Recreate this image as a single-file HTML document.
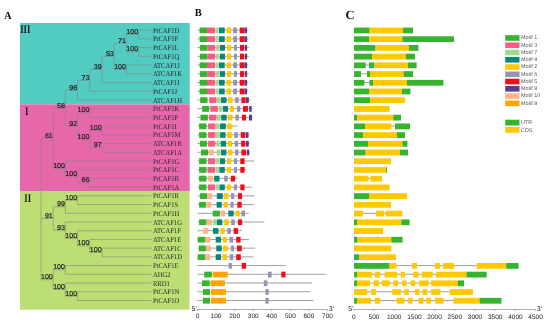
<!DOCTYPE html>
<html><head><meta charset="utf-8">
<style>
html,body{margin:0;padding:0;background:#fff;}
body{width:550px;height:328px;overflow:hidden;}
svg{display:block;will-change:transform;text-rendering:geometricPrecision;}
.pl{font-family:"Liberation Serif",serif;font-weight:bold;font-size:11.5px;fill:#111;}
.cl{font-family:"Liberation Serif",serif;font-weight:bold;font-size:11.5px;fill:#1a1a1a;}
.tl{stroke:#858585;stroke-opacity:0.6;stroke-width:1;}
.bs{font-family:"Liberation Sans",sans-serif;font-size:7.1px;fill:#222;stroke:#222;stroke-width:0.2;text-anchor:end;}
.lf{font-family:"Liberation Serif",serif;font-size:7.2px;fill:#262626;text-rendering:geometricPrecision;}
.gl{stroke:#a0a0a0;stroke-width:1;}
.ax{stroke:#999;stroke-width:0.8;}
.at{font-family:"Liberation Sans",sans-serif;font-size:6.5px;fill:#222;text-anchor:middle;}
.at5{font-family:"Liberation Sans",sans-serif;font-size:7px;fill:#222;}
.lg{font-family:"Liberation Sans",sans-serif;font-size:5.4px;fill:#555;}
</style></head><body>
<svg width="550" height="328" viewBox="0 0 550 328">
<rect x="20" y="23" width="169.7" height="81.4" fill="#52CBC0"/>
<rect x="20" y="104.4" width="169.7" height="87.1" fill="#E767AB"/>
<rect x="20" y="191.5" width="169.5" height="118.2" fill="#BDDE72"/>
<text x="4.1" y="19" class="pl" style="font-size:10.6px">A</text>
<text x="194.8" y="16.2" class="pl" style="font-size:10.6px">B</text>
<text x="345.6" y="19.3" class="pl" style="font-size:12.5px">C</text>
<text transform="translate(20.2,32.9) scale(0.76,1)" class="cl">III</text>
<text transform="translate(25.1,114.8) scale(0.76,1)" class="cl">I</text>
<text transform="translate(24.3,202.3) scale(0.76,1)" class="cl">II</text>
<line class="tl" x1="138.60" y1="30.15" x2="151.50" y2="30.15"/>
<line class="tl" x1="138.60" y1="38.87" x2="151.50" y2="38.87"/>
<line class="tl" x1="138.60" y1="30.15" x2="138.60" y2="38.87"/>
<line class="tl" x1="126.40" y1="34.51" x2="138.60" y2="34.51"/>
<line class="tl" x1="138.60" y1="47.59" x2="151.50" y2="47.59"/>
<line class="tl" x1="138.60" y1="56.31" x2="151.50" y2="56.31"/>
<line class="tl" x1="138.60" y1="47.59" x2="138.60" y2="56.31"/>
<line class="tl" x1="126.40" y1="51.95" x2="138.60" y2="51.95"/>
<line class="tl" x1="126.40" y1="34.51" x2="126.40" y2="51.95"/>
<line class="tl" x1="114.20" y1="43.23" x2="126.40" y2="43.23"/>
<line class="tl" x1="126.40" y1="65.03" x2="151.50" y2="65.03"/>
<line class="tl" x1="126.40" y1="73.75" x2="151.50" y2="73.75"/>
<line class="tl" x1="126.40" y1="65.03" x2="126.40" y2="73.75"/>
<line class="tl" x1="114.20" y1="69.39" x2="126.40" y2="69.39"/>
<line class="tl" x1="114.20" y1="43.23" x2="114.20" y2="69.39"/>
<line class="tl" x1="102.00" y1="56.31" x2="114.20" y2="56.31"/>
<line class="tl" x1="102.00" y1="82.47" x2="151.50" y2="82.47"/>
<line class="tl" x1="102.00" y1="56.31" x2="102.00" y2="82.47"/>
<line class="tl" x1="89.80" y1="69.39" x2="102.00" y2="69.39"/>
<line class="tl" x1="89.80" y1="91.19" x2="151.50" y2="91.19"/>
<line class="tl" x1="89.80" y1="69.39" x2="89.80" y2="91.19"/>
<line class="tl" x1="77.60" y1="80.29" x2="89.80" y2="80.29"/>
<line class="tl" x1="77.60" y1="99.91" x2="151.50" y2="99.91"/>
<line class="tl" x1="77.60" y1="80.29" x2="77.60" y2="99.91"/>
<line class="tl" x1="65.40" y1="90.10" x2="77.60" y2="90.10"/>
<line class="tl" x1="89.80" y1="108.63" x2="151.50" y2="108.63"/>
<line class="tl" x1="89.80" y1="117.35" x2="151.50" y2="117.35"/>
<line class="tl" x1="89.80" y1="108.63" x2="89.80" y2="117.35"/>
<line class="tl" x1="77.60" y1="112.99" x2="89.80" y2="112.99"/>
<line class="tl" x1="102.00" y1="126.07" x2="151.50" y2="126.07"/>
<line class="tl" x1="102.00" y1="134.79" x2="151.50" y2="134.79"/>
<line class="tl" x1="102.00" y1="126.07" x2="102.00" y2="134.79"/>
<line class="tl" x1="89.80" y1="130.43" x2="102.00" y2="130.43"/>
<line class="tl" x1="102.00" y1="143.51" x2="151.50" y2="143.51"/>
<line class="tl" x1="102.00" y1="152.23" x2="151.50" y2="152.23"/>
<line class="tl" x1="102.00" y1="143.51" x2="102.00" y2="152.23"/>
<line class="tl" x1="89.80" y1="147.87" x2="102.00" y2="147.87"/>
<line class="tl" x1="89.80" y1="130.43" x2="89.80" y2="147.87"/>
<line class="tl" x1="77.60" y1="139.15" x2="89.80" y2="139.15"/>
<line class="tl" x1="77.60" y1="112.99" x2="77.60" y2="139.15"/>
<line class="tl" x1="65.40" y1="126.07" x2="77.60" y2="126.07"/>
<line class="tl" x1="65.40" y1="90.10" x2="65.40" y2="126.07"/>
<line class="tl" x1="53.20" y1="108.08" x2="65.40" y2="108.08"/>
<line class="tl" x1="65.40" y1="160.95" x2="151.50" y2="160.95"/>
<line class="tl" x1="77.60" y1="169.67" x2="151.50" y2="169.67"/>
<line class="tl" x1="89.80" y1="178.39" x2="151.50" y2="178.39"/>
<line class="tl" x1="89.80" y1="187.11" x2="151.50" y2="187.11"/>
<line class="tl" x1="89.80" y1="178.39" x2="89.80" y2="187.11"/>
<line class="tl" x1="77.60" y1="182.75" x2="89.80" y2="182.75"/>
<line class="tl" x1="77.60" y1="169.67" x2="77.60" y2="182.75"/>
<line class="tl" x1="65.40" y1="176.21" x2="77.60" y2="176.21"/>
<line class="tl" x1="65.40" y1="160.95" x2="65.40" y2="176.21"/>
<line class="tl" x1="53.20" y1="168.58" x2="65.40" y2="168.58"/>
<line class="tl" x1="53.20" y1="108.08" x2="53.20" y2="168.58"/>
<line class="tl" x1="41.00" y1="138.33" x2="53.20" y2="138.33"/>
<line class="tl" x1="77.60" y1="195.83" x2="151.50" y2="195.83"/>
<line class="tl" x1="77.60" y1="204.55" x2="151.50" y2="204.55"/>
<line class="tl" x1="77.60" y1="195.83" x2="77.60" y2="204.55"/>
<line class="tl" x1="65.40" y1="200.19" x2="77.60" y2="200.19"/>
<line class="tl" x1="65.40" y1="213.27" x2="151.50" y2="213.27"/>
<line class="tl" x1="65.40" y1="200.19" x2="65.40" y2="213.27"/>
<line class="tl" x1="53.20" y1="206.73" x2="65.40" y2="206.73"/>
<line class="tl" x1="65.40" y1="221.99" x2="151.50" y2="221.99"/>
<line class="tl" x1="77.60" y1="230.71" x2="151.50" y2="230.71"/>
<line class="tl" x1="89.80" y1="239.43" x2="151.50" y2="239.43"/>
<line class="tl" x1="102.00" y1="248.15" x2="151.50" y2="248.15"/>
<line class="tl" x1="102.00" y1="256.87" x2="151.50" y2="256.87"/>
<line class="tl" x1="102.00" y1="248.15" x2="102.00" y2="256.87"/>
<line class="tl" x1="89.80" y1="252.51" x2="102.00" y2="252.51"/>
<line class="tl" x1="89.80" y1="239.43" x2="89.80" y2="252.51"/>
<line class="tl" x1="77.60" y1="245.97" x2="89.80" y2="245.97"/>
<line class="tl" x1="77.60" y1="230.71" x2="77.60" y2="245.97"/>
<line class="tl" x1="65.40" y1="238.34" x2="77.60" y2="238.34"/>
<line class="tl" x1="65.40" y1="221.99" x2="65.40" y2="238.34"/>
<line class="tl" x1="53.20" y1="230.17" x2="65.40" y2="230.17"/>
<line class="tl" x1="53.20" y1="206.73" x2="53.20" y2="230.17"/>
<line class="tl" x1="41.00" y1="218.45" x2="53.20" y2="218.45"/>
<line class="tl" x1="65.40" y1="265.59" x2="151.50" y2="265.59"/>
<line class="tl" x1="65.40" y1="274.31" x2="151.50" y2="274.31"/>
<line class="tl" x1="65.40" y1="265.59" x2="65.40" y2="274.31"/>
<line class="tl" x1="53.20" y1="269.95" x2="65.40" y2="269.95"/>
<line class="tl" x1="65.40" y1="283.03" x2="151.50" y2="283.03"/>
<line class="tl" x1="77.60" y1="291.75" x2="151.50" y2="291.75"/>
<line class="tl" x1="77.60" y1="300.47" x2="151.50" y2="300.47"/>
<line class="tl" x1="77.60" y1="291.75" x2="77.60" y2="300.47"/>
<line class="tl" x1="65.40" y1="296.11" x2="77.60" y2="296.11"/>
<line class="tl" x1="65.40" y1="283.03" x2="65.40" y2="296.11"/>
<line class="tl" x1="53.20" y1="289.57" x2="65.40" y2="289.57"/>
<line class="tl" x1="53.20" y1="269.95" x2="53.20" y2="289.57"/>
<line class="tl" x1="41.00" y1="279.76" x2="53.20" y2="279.76"/>
<line class="tl" x1="41.00" y1="138.33" x2="41.00" y2="279.76"/>
<text x="138.20" y="34.01" class="bs">100</text>
<text x="138.20" y="51.45" class="bs">100</text>
<text x="126.00" y="42.73" class="bs">71</text>
<text x="126.00" y="68.89" class="bs">100</text>
<text x="113.80" y="55.81" class="bs">53</text>
<text x="101.60" y="68.89" class="bs">39</text>
<text x="89.40" y="79.79" class="bs">73</text>
<text x="77.20" y="89.60" class="bs">96</text>
<text x="89.40" y="112.49" class="bs">100</text>
<text x="101.60" y="129.93" class="bs">100</text>
<text x="101.60" y="147.37" class="bs">97</text>
<text x="89.40" y="138.65" class="bs">100</text>
<text x="77.20" y="125.57" class="bs">92</text>
<text x="65.00" y="107.58" class="bs">58</text>
<text x="89.40" y="182.25" class="bs">66</text>
<text x="77.20" y="175.71" class="bs">100</text>
<text x="65.00" y="168.08" class="bs">100</text>
<text x="52.80" y="137.83" class="bs">61</text>
<text x="77.20" y="199.69" class="bs">100</text>
<text x="65.00" y="206.23" class="bs">99</text>
<text x="101.60" y="252.01" class="bs">100</text>
<text x="89.40" y="245.47" class="bs">100</text>
<text x="77.20" y="237.84" class="bs">100</text>
<text x="65.00" y="229.67" class="bs">93</text>
<text x="52.80" y="217.95" class="bs">91</text>
<text x="65.00" y="269.45" class="bs">100</text>
<text x="77.20" y="295.61" class="bs">100</text>
<text x="65.00" y="289.07" class="bs">100</text>
<text x="52.80" y="279.26" class="bs">100</text>
<g transform="translate(152.9,0) scale(0.92,1)">
<text x="0" y="32.75" class="lf">PtCAF1D</text>
<text x="0" y="41.47" class="lf">PtCAF1F</text>
<text x="0" y="50.19" class="lf">PtCAF1L</text>
<text x="0" y="58.91" class="lf">PtCAF1Q</text>
<text x="0" y="67.63" class="lf">ATCAF1J</text>
<text x="0" y="76.35" class="lf">ATCAF1K</text>
<text x="0" y="85.07" class="lf">ATCAF1I</text>
<text x="0" y="93.79" class="lf">PtCAF1J</text>
<text x="0" y="102.51" class="lf">ATCAF1H</text>
<text x="0" y="111.23" class="lf">PtCAF1K</text>
<text x="0" y="119.95" class="lf">PtCAF1P</text>
<text x="0" y="128.67" class="lf">PtCAF1I</text>
<text x="0" y="137.39" class="lf">PtCAF1M</text>
<text x="0" y="146.11" class="lf">ATCAF1B</text>
<text x="0" y="154.83" class="lf">ATCAF1A</text>
<text x="0" y="163.55" class="lf">PtCAF1G</text>
<text x="0" y="172.27" class="lf">PtCAF1C</text>
<text x="0" y="180.99" class="lf">PtCAF1B</text>
<text x="0" y="189.71" class="lf">PtCAF1A</text>
<text x="0" y="198.43" class="lf">PtCAF1R</text>
<text x="0" y="207.15" class="lf">PtCAF1S</text>
<text x="0" y="215.87" class="lf">PtCAF1H</text>
<text x="0" y="224.59" class="lf">ATCAF1G</text>
<text x="0" y="233.31" class="lf">ATCAF1F</text>
<text x="0" y="242.03" class="lf">ATCAF1E</text>
<text x="0" y="250.75" class="lf">ATCAF1C</text>
<text x="0" y="259.47" class="lf">ATCAF1D</text>
<text x="0" y="268.19" class="lf">PtCAF1E</text>
<text x="0" y="276.91" class="lf">AHG2</text>
<text x="0" y="285.63" class="lf">RRD1</text>
<text x="0" y="294.35" class="lf">PtCAF1N</text>
<text x="0" y="303.07" class="lf">PtCAF1O</text>
</g>
<line class="gl" x1="197.5" y1="30.15" x2="248.5" y2="30.15"/>
<rect x="199.6" y="27.50" width="7.40" height="5.8" fill="#36B32F"/>
<rect x="207" y="27.50" width="8.00" height="5.8" fill="#FC5A84"/>
<rect x="215.5" y="27.50" width="3.00" height="5.8" fill="#9EDB8C"/>
<rect x="219" y="27.50" width="5.70" height="5.8" fill="#088878"/>
<rect x="226.4" y="27.50" width="4.60" height="5.8" fill="#FFC900"/>
<rect x="233.2" y="27.50" width="3.80" height="5.8" fill="#9A92B6"/>
<rect x="239.7" y="27.50" width="4.40" height="5.8" fill="#F80A18"/>
<rect x="244.3" y="27.50" width="2.80" height="5.8" fill="#5C3C8E"/>
<line class="gl" x1="197.5" y1="38.87" x2="248.5" y2="38.87"/>
<rect x="199.6" y="36.22" width="7.40" height="5.8" fill="#36B32F"/>
<rect x="207" y="36.22" width="8.00" height="5.8" fill="#FC5A84"/>
<rect x="215.5" y="36.22" width="3.00" height="5.8" fill="#9EDB8C"/>
<rect x="219" y="36.22" width="5.70" height="5.8" fill="#088878"/>
<rect x="226.4" y="36.22" width="4.60" height="5.8" fill="#FFC900"/>
<rect x="233.2" y="36.22" width="3.80" height="5.8" fill="#9A92B6"/>
<rect x="239.7" y="36.22" width="4.40" height="5.8" fill="#F80A18"/>
<rect x="244.3" y="36.22" width="2.80" height="5.8" fill="#5C3C8E"/>
<line class="gl" x1="197.5" y1="47.59" x2="249" y2="47.59"/>
<rect x="199.9" y="44.94" width="7.60" height="5.8" fill="#36B32F"/>
<rect x="207.5" y="44.94" width="7.70" height="5.8" fill="#FC5A84"/>
<rect x="216" y="44.94" width="3.20" height="5.8" fill="#9EDB8C"/>
<rect x="219.9" y="44.94" width="5.10" height="5.8" fill="#088878"/>
<rect x="226.9" y="44.94" width="4.30" height="5.8" fill="#FFC900"/>
<rect x="234" y="44.94" width="3.00" height="5.8" fill="#9A92B6"/>
<rect x="240" y="44.94" width="4.30" height="5.8" fill="#F80A18"/>
<rect x="245" y="44.94" width="2.10" height="5.8" fill="#5C3C8E"/>
<line class="gl" x1="197.5" y1="56.31" x2="249" y2="56.31"/>
<rect x="199.9" y="53.66" width="7.60" height="5.8" fill="#36B32F"/>
<rect x="207.5" y="53.66" width="7.70" height="5.8" fill="#FC5A84"/>
<rect x="216" y="53.66" width="3.20" height="5.8" fill="#9EDB8C"/>
<rect x="219.9" y="53.66" width="5.10" height="5.8" fill="#088878"/>
<rect x="226.9" y="53.66" width="4.30" height="5.8" fill="#FFC900"/>
<rect x="234" y="53.66" width="3.00" height="5.8" fill="#9A92B6"/>
<rect x="240" y="53.66" width="4.30" height="5.8" fill="#F80A18"/>
<rect x="245" y="53.66" width="2.10" height="5.8" fill="#5C3C8E"/>
<line class="gl" x1="197.5" y1="65.03" x2="248.5" y2="65.03"/>
<rect x="199.6" y="62.38" width="7.40" height="5.8" fill="#36B32F"/>
<rect x="207" y="62.38" width="8.00" height="5.8" fill="#FC5A84"/>
<rect x="215.5" y="62.38" width="3.00" height="5.8" fill="#9EDB8C"/>
<rect x="219" y="62.38" width="5.70" height="5.8" fill="#088878"/>
<rect x="226.4" y="62.38" width="4.60" height="5.8" fill="#FFC900"/>
<rect x="233.2" y="62.38" width="3.80" height="5.8" fill="#9A92B6"/>
<rect x="239.7" y="62.38" width="4.40" height="5.8" fill="#F80A18"/>
<rect x="244.3" y="62.38" width="2.80" height="5.8" fill="#5C3C8E"/>
<line class="gl" x1="197.5" y1="73.75" x2="249" y2="73.75"/>
<rect x="199.9" y="71.10" width="7.60" height="5.8" fill="#36B32F"/>
<rect x="207.5" y="71.10" width="7.70" height="5.8" fill="#FC5A84"/>
<rect x="216" y="71.10" width="3.20" height="5.8" fill="#9EDB8C"/>
<rect x="219.9" y="71.10" width="5.10" height="5.8" fill="#088878"/>
<rect x="226.9" y="71.10" width="4.30" height="5.8" fill="#FFC900"/>
<rect x="234" y="71.10" width="3.00" height="5.8" fill="#9A92B6"/>
<rect x="240" y="71.10" width="4.30" height="5.8" fill="#F80A18"/>
<rect x="245" y="71.10" width="2.10" height="5.8" fill="#5C3C8E"/>
<line class="gl" x1="197.5" y1="82.47" x2="248.5" y2="82.47"/>
<rect x="199.6" y="79.82" width="7.40" height="5.8" fill="#36B32F"/>
<rect x="207" y="79.82" width="8.00" height="5.8" fill="#FC5A84"/>
<rect x="215.5" y="79.82" width="3.00" height="5.8" fill="#9EDB8C"/>
<rect x="219" y="79.82" width="5.70" height="5.8" fill="#088878"/>
<rect x="226.4" y="79.82" width="4.60" height="5.8" fill="#FFC900"/>
<rect x="233.2" y="79.82" width="3.80" height="5.8" fill="#9A92B6"/>
<rect x="239.7" y="79.82" width="4.40" height="5.8" fill="#F80A18"/>
<rect x="244.3" y="79.82" width="2.80" height="5.8" fill="#5C3C8E"/>
<line class="gl" x1="197.5" y1="91.19" x2="248.5" y2="91.19"/>
<rect x="199.6" y="88.54" width="7.40" height="5.8" fill="#36B32F"/>
<rect x="207" y="88.54" width="8.00" height="5.8" fill="#FC5A84"/>
<rect x="215.5" y="88.54" width="3.00" height="5.8" fill="#9EDB8C"/>
<rect x="219" y="88.54" width="5.70" height="5.8" fill="#088878"/>
<rect x="226.4" y="88.54" width="4.60" height="5.8" fill="#FFC900"/>
<rect x="233.2" y="88.54" width="3.80" height="5.8" fill="#9A92B6"/>
<rect x="239.7" y="88.54" width="4.40" height="5.8" fill="#F80A18"/>
<rect x="244.3" y="88.54" width="2.80" height="5.8" fill="#5C3C8E"/>
<line class="gl" x1="197.5" y1="99.91" x2="250.6" y2="99.91"/>
<rect x="200.2" y="97.26" width="7.30" height="5.8" fill="#36B32F"/>
<rect x="209.2" y="97.26" width="7.30" height="5.8" fill="#FC5A84"/>
<rect x="217.1" y="97.26" width="3.20" height="5.8" fill="#9EDB8C"/>
<rect x="221" y="97.26" width="5.60" height="5.8" fill="#088878"/>
<rect x="228" y="97.26" width="4.60" height="5.8" fill="#FFC900"/>
<rect x="235.1" y="97.26" width="3.50" height="5.8" fill="#9A92B6"/>
<rect x="241.4" y="97.26" width="4.30" height="5.8" fill="#F80A18"/>
<rect x="246" y="97.26" width="2.80" height="5.8" fill="#5C3C8E"/>
<line class="gl" x1="197.5" y1="108.63" x2="252.3" y2="108.63"/>
<rect x="202.1" y="105.98" width="7.10" height="5.8" fill="#36B32F"/>
<rect x="210.3" y="105.98" width="7.60" height="5.8" fill="#FC5A84"/>
<rect x="218.7" y="105.98" width="3.30" height="5.8" fill="#9EDB8C"/>
<rect x="222.8" y="105.98" width="5.20" height="5.8" fill="#088878"/>
<rect x="229.7" y="105.98" width="4.30" height="5.8" fill="#FFC900"/>
<rect x="237" y="105.98" width="3.30" height="5.8" fill="#9A92B6"/>
<rect x="243" y="105.98" width="4.90" height="5.8" fill="#F80A18"/>
<rect x="249.2" y="105.98" width="2.50" height="5.8" fill="#5C3C8E"/>
<line class="gl" x1="197.5" y1="117.35" x2="252.5" y2="117.35"/>
<rect x="200.5" y="114.70" width="7.40" height="5.8" fill="#36B32F"/>
<rect x="208.9" y="114.70" width="7.60" height="5.8" fill="#FC5A84"/>
<rect x="217.1" y="114.70" width="3.50" height="5.8" fill="#9EDB8C"/>
<rect x="221.2" y="114.70" width="5.40" height="5.8" fill="#088878"/>
<rect x="228" y="114.70" width="4.60" height="5.8" fill="#FFC900"/>
<rect x="235.4" y="114.70" width="3.50" height="5.8" fill="#9A92B6"/>
<rect x="241.9" y="114.70" width="4.10" height="5.8" fill="#F80A18"/>
<rect x="249" y="114.70" width="3.00" height="5.8" fill="#5C3C8E"/>
<line class="gl" x1="197.5" y1="126.07" x2="237.5" y2="126.07"/>
<rect x="199.1" y="123.42" width="7.40" height="5.8" fill="#36B32F"/>
<rect x="208.1" y="123.42" width="7.40" height="5.8" fill="#FC5A84"/>
<rect x="216" y="123.42" width="3.50" height="5.8" fill="#9EDB8C"/>
<rect x="220.1" y="123.42" width="5.70" height="5.8" fill="#088878"/>
<rect x="227.2" y="123.42" width="4.70" height="5.8" fill="#FFC900"/>
<line class="gl" x1="197.5" y1="134.79" x2="249.5" y2="134.79"/>
<rect x="199.1" y="132.14" width="7.40" height="5.8" fill="#36B32F"/>
<rect x="208.1" y="132.14" width="7.40" height="5.8" fill="#FC5A84"/>
<rect x="216" y="132.14" width="3.50" height="5.8" fill="#9EDB8C"/>
<rect x="220.1" y="132.14" width="5.40" height="5.8" fill="#088878"/>
<rect x="227.2" y="132.14" width="4.70" height="5.8" fill="#FFC900"/>
<rect x="234.3" y="132.14" width="3.60" height="5.8" fill="#9A92B6"/>
<rect x="240.8" y="132.14" width="4.40" height="5.8" fill="#F80A18"/>
<rect x="245.7" y="132.14" width="2.80" height="5.8" fill="#5C3C8E"/>
<line class="gl" x1="197.5" y1="143.51" x2="249.5" y2="143.51"/>
<rect x="199.9" y="140.86" width="7.10" height="5.8" fill="#36B32F"/>
<rect x="208.1" y="140.86" width="7.30" height="5.8" fill="#FC5A84"/>
<rect x="216.3" y="140.86" width="3.20" height="5.8" fill="#9EDB8C"/>
<rect x="220.6" y="140.86" width="5.50" height="5.8" fill="#088878"/>
<rect x="227.5" y="140.86" width="4.60" height="5.8" fill="#FFC900"/>
<rect x="234.6" y="140.86" width="3.50" height="5.8" fill="#9A92B6"/>
<rect x="241" y="140.86" width="4.40" height="5.8" fill="#F80A18"/>
<rect x="246" y="140.86" width="2.80" height="5.8" fill="#5C3C8E"/>
<line class="gl" x1="197.5" y1="152.23" x2="250" y2="152.23"/>
<rect x="201" y="149.58" width="7.10" height="5.8" fill="#36B32F"/>
<rect x="208.6" y="149.58" width="5.20" height="5.8" fill="#FDB48A"/>
<rect x="216.8" y="149.58" width="3.50" height="5.8" fill="#9EDB8C"/>
<rect x="221" y="149.58" width="5.40" height="5.8" fill="#088878"/>
<rect x="228" y="149.58" width="4.30" height="5.8" fill="#FFC900"/>
<rect x="235.1" y="149.58" width="3.30" height="5.8" fill="#9A92B6"/>
<rect x="241.4" y="149.58" width="4.60" height="5.8" fill="#F80A18"/>
<rect x="246.8" y="149.58" width="2.50" height="5.8" fill="#5C3C8E"/>
<line class="gl" x1="197.5" y1="160.95" x2="254.3" y2="160.95"/>
<rect x="199.1" y="158.30" width="7.40" height="5.8" fill="#36B32F"/>
<rect x="207.9" y="158.30" width="7.30" height="5.8" fill="#FC5A84"/>
<rect x="215.7" y="158.30" width="3.50" height="5.8" fill="#9EDB8C"/>
<rect x="219.9" y="158.30" width="5.10" height="5.8" fill="#088878"/>
<rect x="227" y="158.30" width="4.30" height="5.8" fill="#FFC900"/>
<rect x="234" y="158.30" width="3.00" height="5.8" fill="#9A92B6"/>
<rect x="240.3" y="158.30" width="4.30" height="5.8" fill="#F80A18"/>
<line class="gl" x1="197.5" y1="169.67" x2="246" y2="169.67"/>
<rect x="199.1" y="167.02" width="7.40" height="5.8" fill="#36B32F"/>
<rect x="207.5" y="167.02" width="7.50" height="5.8" fill="#FC5A84"/>
<rect x="215.5" y="167.02" width="3.30" height="5.8" fill="#9EDB8C"/>
<rect x="219.3" y="167.02" width="5.50" height="5.8" fill="#088878"/>
<rect x="226.6" y="167.02" width="4.40" height="5.8" fill="#FFC900"/>
<rect x="234" y="167.02" width="3.00" height="5.8" fill="#9A92B6"/>
<rect x="240.3" y="167.02" width="4.30" height="5.8" fill="#F80A18"/>
<line class="gl" x1="197.5" y1="178.39" x2="237.5" y2="178.39"/>
<rect x="199.1" y="175.74" width="7.40" height="5.8" fill="#36B32F"/>
<rect x="208.1" y="175.74" width="4.90" height="5.8" fill="#FDB48A"/>
<rect x="214.1" y="175.74" width="5.40" height="5.8" fill="#088878"/>
<rect x="224.2" y="175.74" width="3.50" height="5.8" fill="#9A92B6"/>
<rect x="230.8" y="175.74" width="4.30" height="5.8" fill="#F80A18"/>
<line class="gl" x1="197.5" y1="187.11" x2="251.7" y2="187.11"/>
<rect x="199.1" y="184.46" width="7.40" height="5.8" fill="#36B32F"/>
<rect x="207.9" y="184.46" width="7.10" height="5.8" fill="#FC5A84"/>
<rect x="215.5" y="184.46" width="3.30" height="5.8" fill="#9EDB8C"/>
<rect x="219.5" y="184.46" width="5.30" height="5.8" fill="#088878"/>
<rect x="226.6" y="184.46" width="4.40" height="5.8" fill="#FFC900"/>
<rect x="234" y="184.46" width="3.00" height="5.8" fill="#9A92B6"/>
<rect x="240.3" y="184.46" width="4.30" height="5.8" fill="#F80A18"/>
<line class="gl" x1="197.5" y1="195.83" x2="254.3" y2="195.83"/>
<rect x="199.9" y="193.18" width="7.10" height="5.8" fill="#36B32F"/>
<rect x="207" y="193.18" width="4.90" height="5.8" fill="#FDB48A"/>
<rect x="216.8" y="193.18" width="6.00" height="5.8" fill="#088878"/>
<rect x="223.9" y="193.18" width="4.40" height="5.8" fill="#FFC900"/>
<rect x="231" y="193.18" width="3.30" height="5.8" fill="#9A92B6"/>
<rect x="237.9" y="193.18" width="4.20" height="5.8" fill="#F80A18"/>
<line class="gl" x1="197.5" y1="204.55" x2="253.6" y2="204.55"/>
<rect x="199.1" y="201.90" width="6.80" height="5.8" fill="#36B32F"/>
<rect x="206.5" y="201.90" width="4.90" height="5.8" fill="#FDB48A"/>
<rect x="216.6" y="201.90" width="5.10" height="5.8" fill="#088878"/>
<rect x="223.6" y="201.90" width="4.30" height="5.8" fill="#FFC900"/>
<rect x="230.5" y="201.90" width="3.20" height="5.8" fill="#9A92B6"/>
<rect x="237.3" y="201.90" width="4.40" height="5.8" fill="#F80A18"/>
<line class="gl" x1="197.5" y1="213.27" x2="248.8" y2="213.27"/>
<rect x="212.7" y="210.62" width="7.20" height="5.8" fill="#36B32F"/>
<rect x="220.6" y="210.62" width="4.40" height="5.8" fill="#FDB48A"/>
<rect x="228.3" y="210.62" width="5.40" height="5.8" fill="#088878"/>
<rect x="235.4" y="210.62" width="4.30" height="5.8" fill="#FFC900"/>
<rect x="241.4" y="210.62" width="3.60" height="5.8" fill="#9A92B6"/>
<line class="gl" x1="197.5" y1="221.99" x2="264.4" y2="221.99"/>
<rect x="199.1" y="219.34" width="7.40" height="5.8" fill="#36B32F"/>
<rect x="207" y="219.34" width="4.90" height="5.8" fill="#FDB48A"/>
<rect x="213" y="219.34" width="3.30" height="5.8" fill="#9EDB8C"/>
<rect x="216.8" y="219.34" width="5.50" height="5.8" fill="#088878"/>
<rect x="224.2" y="219.34" width="4.60" height="5.8" fill="#FFC900"/>
<rect x="231.2" y="219.34" width="3.60" height="5.8" fill="#9A92B6"/>
<rect x="237.9" y="219.34" width="4.30" height="5.8" fill="#F80A18"/>
<line class="gl" x1="197.5" y1="230.71" x2="241.9" y2="230.71"/>
<rect x="203.2" y="228.06" width="4.90" height="5.8" fill="#FDB48A"/>
<rect x="213" y="228.06" width="5.50" height="5.8" fill="#088878"/>
<rect x="220.3" y="228.06" width="4.40" height="5.8" fill="#FFC900"/>
<rect x="227.2" y="228.06" width="3.60" height="5.8" fill="#9A92B6"/>
<rect x="233.7" y="228.06" width="4.40" height="5.8" fill="#F80A18"/>
<line class="gl" x1="197.5" y1="239.43" x2="249" y2="239.43"/>
<rect x="197.7" y="236.78" width="7.70" height="5.8" fill="#36B32F"/>
<rect x="205.4" y="236.78" width="4.90" height="5.8" fill="#FDB48A"/>
<rect x="215.7" y="236.78" width="5.30" height="5.8" fill="#088878"/>
<rect x="222.5" y="236.78" width="4.40" height="5.8" fill="#FFC900"/>
<rect x="229.4" y="236.78" width="3.60" height="5.8" fill="#9A92B6"/>
<rect x="236.2" y="236.78" width="4.40" height="5.8" fill="#F80A18"/>
<line class="gl" x1="197.5" y1="248.15" x2="255" y2="248.15"/>
<rect x="198.8" y="245.50" width="7.10" height="5.8" fill="#36B32F"/>
<rect x="205.9" y="245.50" width="5.20" height="5.8" fill="#FDB48A"/>
<rect x="216.3" y="245.50" width="5.40" height="5.8" fill="#088878"/>
<rect x="223.1" y="245.50" width="4.60" height="5.8" fill="#FFC900"/>
<rect x="231" y="245.50" width="3.10" height="5.8" fill="#9A92B6"/>
<rect x="237" y="245.50" width="4.70" height="5.8" fill="#F80A18"/>
<line class="gl" x1="197.5" y1="256.87" x2="253.3" y2="256.87"/>
<rect x="197.7" y="254.22" width="7.30" height="5.8" fill="#36B32F"/>
<rect x="205" y="254.22" width="5.30" height="5.8" fill="#FDB48A"/>
<rect x="215.7" y="254.22" width="5.30" height="5.8" fill="#088878"/>
<rect x="222.5" y="254.22" width="4.40" height="5.8" fill="#FFC900"/>
<rect x="229.7" y="254.22" width="3.50" height="5.8" fill="#9A92B6"/>
<rect x="236.2" y="254.22" width="4.60" height="5.8" fill="#F80A18"/>
<line class="gl" x1="197.5" y1="265.59" x2="285.5" y2="265.59"/>
<rect x="228.6" y="262.94" width="3.30" height="5.8" fill="#9A92B6"/>
<rect x="241.7" y="262.94" width="4.30" height="5.8" fill="#F80A18"/>
<line class="gl" x1="197.5" y1="274.31" x2="325.7" y2="274.31"/>
<rect x="204.2" y="271.66" width="7.70" height="5.8" fill="#36B32F"/>
<rect x="212.8" y="271.66" width="14.90" height="5.8" fill="#FFA402"/>
<rect x="267.9" y="271.66" width="3.70" height="5.8" fill="#9A92B6"/>
<rect x="281.3" y="271.66" width="4.20" height="5.8" fill="#F80A18"/>
<line class="gl" x1="197.5" y1="283.03" x2="312.3" y2="283.03"/>
<rect x="202" y="280.38" width="7.70" height="5.8" fill="#36B32F"/>
<rect x="210.6" y="280.38" width="14.30" height="5.8" fill="#FFA402"/>
<rect x="263.8" y="280.38" width="3.60" height="5.8" fill="#9A92B6"/>
<line class="gl" x1="197.5" y1="291.75" x2="309.9" y2="291.75"/>
<rect x="202.9" y="289.10" width="7.10" height="5.8" fill="#36B32F"/>
<rect x="211" y="289.10" width="15.00" height="5.8" fill="#FFA402"/>
<rect x="265.5" y="289.10" width="3.20" height="5.8" fill="#9A92B6"/>
<line class="gl" x1="197.5" y1="300.47" x2="313.6" y2="300.47"/>
<rect x="202.9" y="297.82" width="7.10" height="5.8" fill="#36B32F"/>
<rect x="211" y="297.82" width="15.00" height="5.8" fill="#FFA402"/>
<rect x="265.5" y="297.82" width="3.20" height="5.8" fill="#9A92B6"/>
<line class="gl" x1="354" y1="30.15" x2="413" y2="30.15"/>
<rect x="354" y="27.55" width="15.60" height="5.8" fill="#36B32F"/>
<rect x="369.6" y="27.55" width="33.40" height="5.8" fill="#FFC900"/>
<rect x="403" y="27.55" width="10.00" height="5.8" fill="#36B32F"/>
<line class="gl" x1="354" y1="38.87" x2="454" y2="38.87"/>
<rect x="354" y="36.27" width="15.00" height="5.8" fill="#36B32F"/>
<rect x="369" y="36.27" width="33.40" height="5.8" fill="#FFC900"/>
<rect x="402.4" y="36.27" width="51.60" height="5.8" fill="#36B32F"/>
<line class="gl" x1="354" y1="47.59" x2="418.4" y2="47.59"/>
<rect x="354" y="44.99" width="21.40" height="5.8" fill="#36B32F"/>
<rect x="375.4" y="44.99" width="33.60" height="5.8" fill="#FFC900"/>
<rect x="409" y="44.99" width="9.40" height="5.8" fill="#36B32F"/>
<line class="gl" x1="354" y1="56.31" x2="415" y2="56.31"/>
<rect x="354" y="53.71" width="18.00" height="5.8" fill="#36B32F"/>
<rect x="372" y="53.71" width="34.00" height="5.8" fill="#FFC900"/>
<rect x="406" y="53.71" width="9.00" height="5.8" fill="#36B32F"/>
<line class="gl" x1="354" y1="65.03" x2="416.6" y2="65.03"/>
<rect x="354" y="62.43" width="11.60" height="5.8" fill="#36B32F"/>
<rect x="369" y="62.43" width="5.40" height="5.8" fill="#36B32F"/>
<rect x="374.4" y="62.43" width="33.60" height="5.8" fill="#FFC900"/>
<rect x="408" y="62.43" width="8.60" height="5.8" fill="#36B32F"/>
<line class="gl" x1="354" y1="73.75" x2="413" y2="73.75"/>
<rect x="354" y="71.15" width="7.00" height="5.8" fill="#36B32F"/>
<rect x="367" y="71.15" width="3.00" height="5.8" fill="#36B32F"/>
<rect x="370" y="71.15" width="33.60" height="5.8" fill="#FFC900"/>
<rect x="403.6" y="71.15" width="9.40" height="5.8" fill="#36B32F"/>
<line class="gl" x1="354" y1="82.47" x2="443.4" y2="82.47"/>
<rect x="354" y="79.87" width="10.40" height="5.8" fill="#36B32F"/>
<rect x="369.4" y="79.87" width="3.60" height="5.8" fill="#36B32F"/>
<rect x="373" y="79.87" width="34.00" height="5.8" fill="#FFC900"/>
<rect x="407" y="79.87" width="36.40" height="5.8" fill="#36B32F"/>
<line class="gl" x1="354" y1="91.19" x2="410.4" y2="91.19"/>
<rect x="354" y="88.59" width="15.00" height="5.8" fill="#36B32F"/>
<rect x="369" y="88.59" width="33.00" height="5.8" fill="#FFC900"/>
<rect x="402" y="88.59" width="8.40" height="5.8" fill="#36B32F"/>
<line class="gl" x1="354" y1="99.91" x2="405" y2="99.91"/>
<rect x="354" y="97.31" width="16.00" height="5.8" fill="#36B32F"/>
<rect x="370" y="97.31" width="35.00" height="5.8" fill="#FFC900"/>
<rect x="354" y="106.03" width="35.60" height="5.8" fill="#FFC900"/>
<line class="gl" x1="354" y1="117.35" x2="401" y2="117.35"/>
<rect x="354" y="114.75" width="3.00" height="5.8" fill="#36B32F"/>
<rect x="357" y="114.75" width="36.40" height="5.8" fill="#FFC900"/>
<rect x="393.4" y="114.75" width="7.60" height="5.8" fill="#36B32F"/>
<line class="gl" x1="354" y1="126.07" x2="410" y2="126.07"/>
<rect x="354" y="123.47" width="11.00" height="5.8" fill="#36B32F"/>
<rect x="365" y="123.47" width="26.40" height="5.8" fill="#FFC900"/>
<rect x="395" y="123.47" width="15.00" height="5.8" fill="#36B32F"/>
<line class="gl" x1="354" y1="134.79" x2="405" y2="134.79"/>
<rect x="354" y="132.19" width="9.00" height="5.8" fill="#36B32F"/>
<rect x="363" y="132.19" width="34.00" height="5.8" fill="#FFC900"/>
<rect x="397" y="132.19" width="8.00" height="5.8" fill="#36B32F"/>
<line class="gl" x1="354" y1="143.51" x2="407.4" y2="143.51"/>
<rect x="354" y="140.91" width="14.00" height="5.8" fill="#36B32F"/>
<rect x="368" y="140.91" width="34.40" height="5.8" fill="#FFC900"/>
<rect x="402.4" y="140.91" width="5.00" height="5.8" fill="#36B32F"/>
<line class="gl" x1="354" y1="152.23" x2="408" y2="152.23"/>
<rect x="354" y="149.63" width="11.60" height="5.8" fill="#36B32F"/>
<rect x="365.6" y="149.63" width="34.40" height="5.8" fill="#FFC900"/>
<rect x="400" y="149.63" width="8.00" height="5.8" fill="#36B32F"/>
<rect x="354" y="158.35" width="37.00" height="5.8" fill="#FFC900"/>
<line class="gl" x1="354" y1="169.67" x2="387" y2="169.67"/>
<rect x="354" y="167.07" width="32.00" height="5.8" fill="#FFC900"/>
<rect x="386" y="167.07" width="1.00" height="5.8" fill="#36B32F"/>
<line class="gl" x1="354" y1="178.39" x2="382" y2="178.39"/>
<rect x="354" y="175.79" width="14.60" height="5.8" fill="#FFC900"/>
<rect x="370.6" y="175.79" width="11.40" height="5.8" fill="#FFC900"/>
<rect x="354" y="184.51" width="35.60" height="5.8" fill="#FFC900"/>
<line class="gl" x1="354" y1="195.83" x2="407" y2="195.83"/>
<rect x="354" y="193.23" width="15.40" height="5.8" fill="#36B32F"/>
<rect x="369.4" y="193.23" width="37.60" height="5.8" fill="#FFC900"/>
<rect x="354" y="201.95" width="37.00" height="5.8" fill="#FFC900"/>
<line class="gl" x1="354" y1="213.27" x2="402.4" y2="213.27"/>
<rect x="354" y="210.67" width="9.00" height="5.8" fill="#FFC900"/>
<rect x="376" y="210.67" width="8.00" height="5.8" fill="#FFC900"/>
<rect x="385.6" y="210.67" width="16.80" height="5.8" fill="#FFC900"/>
<line class="gl" x1="354" y1="221.99" x2="409.6" y2="221.99"/>
<rect x="354" y="219.39" width="3.00" height="5.8" fill="#36B32F"/>
<rect x="357" y="219.39" width="44.40" height="5.8" fill="#FFC900"/>
<rect x="401.4" y="219.39" width="8.20" height="5.8" fill="#36B32F"/>
<rect x="354" y="228.11" width="29.00" height="5.8" fill="#FFC900"/>
<line class="gl" x1="354" y1="239.43" x2="402.6" y2="239.43"/>
<rect x="354" y="236.83" width="3.60" height="5.8" fill="#36B32F"/>
<rect x="357.6" y="236.83" width="33.80" height="5.8" fill="#FFC900"/>
<rect x="391.4" y="236.83" width="11.20" height="5.8" fill="#36B32F"/>
<rect x="354" y="245.55" width="37.40" height="5.8" fill="#FFC900"/>
<line class="gl" x1="354" y1="256.87" x2="396" y2="256.87"/>
<rect x="354" y="254.27" width="5.00" height="5.8" fill="#36B32F"/>
<rect x="359" y="254.27" width="37.00" height="5.8" fill="#FFC900"/>
<line class="gl" x1="354" y1="265.59" x2="518.5" y2="265.59"/>
<rect x="354" y="262.99" width="35.40" height="5.8" fill="#36B32F"/>
<rect x="389.4" y="262.99" width="7.20" height="5.8" fill="#FFC900"/>
<rect x="412" y="262.99" width="5.00" height="5.8" fill="#FFC900"/>
<rect x="434.9" y="262.99" width="5.00" height="5.8" fill="#FFC900"/>
<rect x="443" y="262.99" width="11.10" height="5.8" fill="#FFC900"/>
<rect x="476.8" y="262.99" width="29.50" height="5.8" fill="#FFC900"/>
<rect x="506.3" y="262.99" width="12.20" height="5.8" fill="#36B32F"/>
<line class="gl" x1="354.1" y1="274.31" x2="486.6" y2="274.31"/>
<rect x="354.1" y="271.71" width="2.90" height="5.8" fill="#36B32F"/>
<rect x="357" y="271.71" width="14.90" height="5.8" fill="#FFC900"/>
<rect x="374.8" y="271.71" width="5.40" height="5.8" fill="#FFC900"/>
<rect x="384.6" y="271.71" width="12.70" height="5.8" fill="#FFC900"/>
<rect x="400.7" y="271.71" width="4.30" height="5.8" fill="#FFC900"/>
<rect x="413.2" y="271.71" width="5.40" height="5.8" fill="#FFC900"/>
<rect x="421.8" y="271.71" width="10.90" height="5.8" fill="#FFC900"/>
<rect x="436" y="271.71" width="30.50" height="5.8" fill="#FFC900"/>
<rect x="466.5" y="271.71" width="20.10" height="5.8" fill="#36B32F"/>
<line class="gl" x1="354.1" y1="283.03" x2="464" y2="283.03"/>
<rect x="354.1" y="280.43" width="2.90" height="5.8" fill="#36B32F"/>
<rect x="357" y="280.43" width="13.00" height="5.8" fill="#FFC900"/>
<rect x="373.5" y="280.43" width="5.50" height="5.8" fill="#FFC900"/>
<rect x="381.8" y="280.43" width="7.90" height="5.8" fill="#FFC900"/>
<rect x="393.3" y="280.43" width="4.80" height="5.8" fill="#FFC900"/>
<rect x="402.2" y="280.43" width="4.40" height="5.8" fill="#FFC900"/>
<rect x="410.8" y="280.43" width="4.40" height="5.8" fill="#FFC900"/>
<rect x="419.2" y="280.43" width="9.20" height="5.8" fill="#FFC900"/>
<rect x="431.2" y="280.43" width="26.60" height="5.8" fill="#FFC900"/>
<rect x="457.8" y="280.43" width="6.20" height="5.8" fill="#36B32F"/>
<line class="gl" x1="354.1" y1="291.75" x2="473" y2="291.75"/>
<rect x="354.1" y="289.15" width="13.10" height="5.8" fill="#FFC900"/>
<rect x="371" y="289.15" width="5.10" height="5.8" fill="#FFC900"/>
<rect x="392.3" y="289.15" width="8.70" height="5.8" fill="#FFC900"/>
<rect x="404.2" y="289.15" width="4.60" height="5.8" fill="#FFC900"/>
<rect x="414.9" y="289.15" width="4.60" height="5.8" fill="#FFC900"/>
<rect x="422.5" y="289.15" width="4.80" height="5.8" fill="#FFC900"/>
<rect x="431.2" y="289.15" width="9.20" height="5.8" fill="#FFC900"/>
<rect x="449.7" y="289.15" width="23.30" height="5.8" fill="#FFC900"/>
<line class="gl" x1="354.1" y1="300.47" x2="501.5" y2="300.47"/>
<rect x="354.1" y="297.87" width="3.30" height="5.8" fill="#36B32F"/>
<rect x="357.4" y="297.87" width="13.60" height="5.8" fill="#FFC900"/>
<rect x="374.8" y="297.87" width="5.50" height="5.8" fill="#FFC900"/>
<rect x="396.5" y="297.87" width="8.00" height="5.8" fill="#FFC900"/>
<rect x="408.2" y="297.87" width="4.50" height="5.8" fill="#FFC900"/>
<rect x="418.5" y="297.87" width="5.10" height="5.8" fill="#FFC900"/>
<rect x="426.2" y="297.87" width="4.80" height="5.8" fill="#FFC900"/>
<rect x="435" y="297.87" width="8.60" height="5.8" fill="#FFC900"/>
<rect x="453.5" y="297.87" width="26.10" height="5.8" fill="#FFC900"/>
<rect x="479.6" y="297.87" width="21.90" height="5.8" fill="#36B32F"/>
<line class="ax" x1="197.5" y1="309.5" x2="327.5" y2="309.5"/>
<line class="ax" x1="197.50" y1="309.5" x2="197.50" y2="311.0"/>
<text class="at" x="197.50" y="318">0</text>
<line class="ax" x1="216.07" y1="309.5" x2="216.07" y2="311.0"/>
<text class="at" x="216.07" y="318">100</text>
<line class="ax" x1="234.64" y1="309.5" x2="234.64" y2="311.0"/>
<text class="at" x="234.64" y="318">200</text>
<line class="ax" x1="253.21" y1="309.5" x2="253.21" y2="311.0"/>
<text class="at" x="253.21" y="318">300</text>
<line class="ax" x1="271.78" y1="309.5" x2="271.78" y2="311.0"/>
<text class="at" x="271.78" y="318">400</text>
<line class="ax" x1="290.35" y1="309.5" x2="290.35" y2="311.0"/>
<text class="at" x="290.35" y="318">500</text>
<line class="ax" x1="308.92" y1="309.5" x2="308.92" y2="311.0"/>
<text class="at" x="308.92" y="318">600</text>
<line class="ax" x1="327.49" y1="309.5" x2="327.49" y2="311.0"/>
<text class="at" x="327.49" y="318">700</text>
<text class="at5" x="191.6" y="310.8">5'</text>
<text class="at5" x="328.8" y="310.8">3'</text>
<line class="ax" x1="353.8" y1="309.5" x2="535.6" y2="309.5"/>
<line class="ax" x1="353.80" y1="309.5" x2="353.80" y2="311.0"/>
<text class="at" x="353.80" y="318.6">0</text>
<line class="ax" x1="374.00" y1="309.5" x2="374.00" y2="311.0"/>
<text class="at" x="374.00" y="318.6">500</text>
<line class="ax" x1="394.20" y1="309.5" x2="394.20" y2="311.0"/>
<text class="at" x="394.20" y="318.6">1000</text>
<line class="ax" x1="414.40" y1="309.5" x2="414.40" y2="311.0"/>
<text class="at" x="414.40" y="318.6">1500</text>
<line class="ax" x1="434.60" y1="309.5" x2="434.60" y2="311.0"/>
<text class="at" x="434.60" y="318.6">2000</text>
<line class="ax" x1="454.80" y1="309.5" x2="454.80" y2="311.0"/>
<text class="at" x="454.80" y="318.6">2500</text>
<line class="ax" x1="475.00" y1="309.5" x2="475.00" y2="311.0"/>
<text class="at" x="475.00" y="318.6">3000</text>
<line class="ax" x1="495.20" y1="309.5" x2="495.20" y2="311.0"/>
<text class="at" x="495.20" y="318.6">3500</text>
<line class="ax" x1="515.40" y1="309.5" x2="515.40" y2="311.0"/>
<text class="at" x="515.40" y="318.6">4000</text>
<line class="ax" x1="535.60" y1="309.5" x2="535.60" y2="311.0"/>
<text class="at" x="535.60" y="318.6">4500</text>
<text class="at5" x="348.3" y="311">5'</text>
<text class="at5" x="536.8" y="311">3'</text>
<rect x="505.2" y="35.20" width="14.3" height="5.6" fill="#36B32F"/>
<text class="lg" x="521" y="39.30">Motif 1</text>
<rect x="505.2" y="42.46" width="14.3" height="5.6" fill="#FC5A84"/>
<text class="lg" x="521" y="46.56">Motif 3</text>
<rect x="505.2" y="49.72" width="14.3" height="5.6" fill="#9EDB8C"/>
<text class="lg" x="521" y="53.82">Motif 7</text>
<rect x="505.2" y="56.98" width="14.3" height="5.6" fill="#088878"/>
<text class="lg" x="521" y="61.08">Motif 4</text>
<rect x="505.2" y="64.24" width="14.3" height="5.6" fill="#FFC900"/>
<text class="lg" x="521" y="68.34">Motif 2</text>
<rect x="505.2" y="71.50" width="14.3" height="5.6" fill="#9A92B6"/>
<text class="lg" x="521" y="75.60">Motif 6</text>
<rect x="505.2" y="78.76" width="14.3" height="5.6" fill="#F80A18"/>
<text class="lg" x="521" y="82.86">Motif 5</text>
<rect x="505.2" y="86.02" width="14.3" height="5.6" fill="#5C3C8E"/>
<text class="lg" x="521" y="90.12">Motif 9</text>
<rect x="505.2" y="93.28" width="14.3" height="5.6" fill="#FDB48A"/>
<text class="lg" x="521" y="97.38">Motif 10</text>
<rect x="505.2" y="100.54" width="14.3" height="5.6" fill="#FFA402"/>
<text class="lg" x="521" y="104.64">Motif 8</text>
<rect x="505.2" y="119.70" width="14.3" height="5.8" fill="#36B32F"/>
<text class="lg" x="521" y="124.40">UTR</text>
<rect x="505.2" y="127.00" width="14.3" height="5.8" fill="#FFC900"/>
<text class="lg" x="521" y="131.70">CDS</text>
</svg>
</body></html>
